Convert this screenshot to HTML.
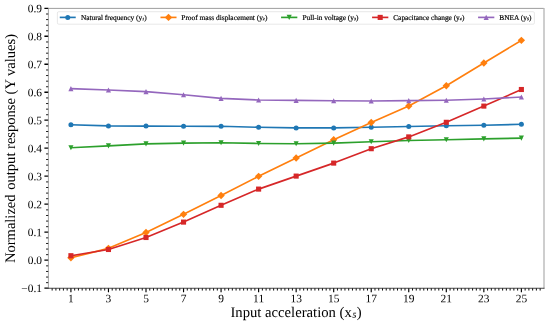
<!DOCTYPE html>
<html lang="en"><head><meta charset="utf-8"><title>Normalized output response vs input acceleration</title>
<style>
html,body{margin:0;padding:0;background:#fff;}
body{width:550px;height:325px;overflow:hidden;}
svg{display:block;}
text{text-rendering:geometricPrecision;font-family:"Liberation Serif",serif;fill:#000;}
.tk{font-size:11.45px;}
.lb{font-size:14.55px;}
.lg{font-size:7.37px;stroke:#000;stroke-width:0.18px;}
</style></head><body>
<svg width="550" height="325" viewBox="0 0 550 325">
<rect x="0" y="0" width="550" height="325" fill="#ffffff"/>
<path d="M52.15 288.25v2.3M55.91 288.25v2.3M59.66 288.25v2.3M63.42 288.25v2.3M67.17 288.25v2.3M74.68 288.25v2.3M78.43 288.25v2.3M82.18 288.25v2.3M85.94 288.25v2.3M89.69 288.25v2.3M93.45 288.25v2.3M97.20 288.25v2.3M100.95 288.25v2.3M104.71 288.25v2.3M112.21 288.25v2.3M115.97 288.25v2.3M119.72 288.25v2.3M123.48 288.25v2.3M127.23 288.25v2.3M130.98 288.25v2.3M134.74 288.25v2.3M138.49 288.25v2.3M142.24 288.25v2.3M149.75 288.25v2.3M153.51 288.25v2.3M157.26 288.25v2.3M161.01 288.25v2.3M164.77 288.25v2.3M168.52 288.25v2.3M172.28 288.25v2.3M176.03 288.25v2.3M179.78 288.25v2.3M187.29 288.25v2.3M191.04 288.25v2.3M194.80 288.25v2.3M198.55 288.25v2.3M202.31 288.25v2.3M206.06 288.25v2.3M209.81 288.25v2.3M213.57 288.25v2.3M217.32 288.25v2.3M224.83 288.25v2.3M228.58 288.25v2.3M232.34 288.25v2.3M236.09 288.25v2.3M239.84 288.25v2.3M243.60 288.25v2.3M247.35 288.25v2.3M251.10 288.25v2.3M254.86 288.25v2.3M262.37 288.25v2.3M266.12 288.25v2.3M269.87 288.25v2.3M273.63 288.25v2.3M277.38 288.25v2.3M281.13 288.25v2.3M284.89 288.25v2.3M288.64 288.25v2.3M292.40 288.25v2.3M299.90 288.25v2.3M303.66 288.25v2.3M307.41 288.25v2.3M311.17 288.25v2.3M314.92 288.25v2.3M318.67 288.25v2.3M322.43 288.25v2.3M326.18 288.25v2.3M329.93 288.25v2.3M337.44 288.25v2.3M341.20 288.25v2.3M344.95 288.25v2.3M348.70 288.25v2.3M352.46 288.25v2.3M356.21 288.25v2.3M359.96 288.25v2.3M363.72 288.25v2.3M367.47 288.25v2.3M374.98 288.25v2.3M378.73 288.25v2.3M382.49 288.25v2.3M386.24 288.25v2.3M389.99 288.25v2.3M393.75 288.25v2.3M397.50 288.25v2.3M401.26 288.25v2.3M405.01 288.25v2.3M412.52 288.25v2.3M416.27 288.25v2.3M420.02 288.25v2.3M423.78 288.25v2.3M427.53 288.25v2.3M431.29 288.25v2.3M435.04 288.25v2.3M438.79 288.25v2.3M442.55 288.25v2.3M450.06 288.25v2.3M453.81 288.25v2.3M457.56 288.25v2.3M461.32 288.25v2.3M465.07 288.25v2.3M468.82 288.25v2.3M472.58 288.25v2.3M476.33 288.25v2.3M480.09 288.25v2.3M487.59 288.25v2.3M491.35 288.25v2.3M495.10 288.25v2.3M498.85 288.25v2.3M502.61 288.25v2.3M506.36 288.25v2.3M510.12 288.25v2.3M513.87 288.25v2.3M517.62 288.25v2.3M525.13 288.25v2.3M528.88 288.25v2.3M532.64 288.25v2.3M536.39 288.25v2.3M540.15 288.25v2.3" stroke="#000" stroke-width="0.95" fill="none"/>
<path d="M70.92 288.25v4.0M108.46 288.25v4.0M146.00 288.25v4.0M183.54 288.25v4.0M221.07 288.25v4.0M258.61 288.25v4.0M296.15 288.25v4.0M333.69 288.25v4.0M371.23 288.25v4.0M408.76 288.25v4.0M446.30 288.25v4.0M483.84 288.25v4.0M521.38 288.25v4.0" stroke="#000" stroke-width="1.15" fill="none"/>
<path d="M48.40 282.65h-2.3M48.40 277.06h-2.3M48.40 271.46h-2.3M48.40 265.86h-2.3M48.40 254.67h-2.3M48.40 249.07h-2.3M48.40 243.47h-2.3M48.40 237.88h-2.3M48.40 226.68h-2.3M48.40 221.09h-2.3M48.40 215.49h-2.3M48.40 209.89h-2.3M48.40 198.70h-2.3M48.40 193.10h-2.3M48.40 187.50h-2.3M48.40 181.91h-2.3M48.40 170.71h-2.3M48.40 165.12h-2.3M48.40 159.52h-2.3M48.40 153.92h-2.3M48.40 142.73h-2.3M48.40 137.13h-2.3M48.40 131.53h-2.3M48.40 125.94h-2.3M48.40 114.74h-2.3M48.40 109.15h-2.3M48.40 103.55h-2.3M48.40 97.95h-2.3M48.40 86.76h-2.3M48.40 81.16h-2.3M48.40 75.56h-2.3M48.40 69.97h-2.3M48.40 58.77h-2.3M48.40 53.18h-2.3M48.40 47.58h-2.3M48.40 41.98h-2.3M48.40 30.79h-2.3M48.40 25.19h-2.3M48.40 19.59h-2.3M48.40 14.00h-2.3" stroke="#000" stroke-width="0.95" fill="none"/>
<path d="M48.40 288.13h-4.0M48.40 260.15h-4.0M48.40 232.16h-4.0M48.40 204.18h-4.0M48.40 176.19h-4.0M48.40 148.21h-4.0M48.40 120.22h-4.0M48.40 92.23h-4.0M48.40 64.25h-4.0M48.40 36.27h-4.0M48.40 8.28h-4.0" stroke="#000" stroke-width="1.3" fill="none"/>
<polyline points="70.92,124.70 108.46,125.90 146.00,126.10 183.54,126.30 221.07,126.30 258.61,127.30 296.15,127.90 333.69,127.90 371.23,127.30 408.76,126.50 446.30,125.80 483.84,125.30 521.38,124.30" fill="none" stroke="#1f77b4" stroke-width="1.65" stroke-linejoin="round" stroke-linecap="square"/>
<g><circle cx="70.92" cy="124.70" r="2.50" fill="#1f77b4"/><circle cx="108.46" cy="125.90" r="2.50" fill="#1f77b4"/><circle cx="146.00" cy="126.10" r="2.50" fill="#1f77b4"/><circle cx="183.54" cy="126.30" r="2.50" fill="#1f77b4"/><circle cx="221.07" cy="126.30" r="2.50" fill="#1f77b4"/><circle cx="258.61" cy="127.30" r="2.50" fill="#1f77b4"/><circle cx="296.15" cy="127.90" r="2.50" fill="#1f77b4"/><circle cx="333.69" cy="127.90" r="2.50" fill="#1f77b4"/><circle cx="371.23" cy="127.30" r="2.50" fill="#1f77b4"/><circle cx="408.76" cy="126.50" r="2.50" fill="#1f77b4"/><circle cx="446.30" cy="125.80" r="2.50" fill="#1f77b4"/><circle cx="483.84" cy="125.30" r="2.50" fill="#1f77b4"/><circle cx="521.38" cy="124.30" r="2.50" fill="#1f77b4"/></g>
<polyline points="70.92,257.85 108.46,248.35 146.00,232.55 183.54,214.35 221.07,195.55 258.61,176.35 296.15,157.95 333.69,139.75 371.23,122.55 408.76,105.95 446.30,85.75 483.84,62.95 521.38,40.35" fill="none" stroke="#ff7f0e" stroke-width="1.65" stroke-linejoin="round" stroke-linecap="square"/>
<g><path d="M70.92 254.14L74.63 257.85L70.92 261.56L67.22 257.85Z" fill="#ff7f0e" /><path d="M108.46 244.64L112.17 248.35L108.46 252.06L104.75 248.35Z" fill="#ff7f0e" /><path d="M146.00 228.84L149.70 232.55L146.00 236.26L142.29 232.55Z" fill="#ff7f0e" /><path d="M183.54 210.64L187.24 214.35L183.54 218.06L179.83 214.35Z" fill="#ff7f0e" /><path d="M221.07 191.84L224.78 195.55L221.07 199.26L217.37 195.55Z" fill="#ff7f0e" /><path d="M258.61 172.64L262.32 176.35L258.61 180.06L254.91 176.35Z" fill="#ff7f0e" /><path d="M296.15 154.24L299.86 157.95L296.15 161.66L292.44 157.95Z" fill="#ff7f0e" /><path d="M333.69 136.04L337.39 139.75L333.69 143.46L329.98 139.75Z" fill="#ff7f0e" /><path d="M371.23 118.84L374.93 122.55L371.23 126.26L367.52 122.55Z" fill="#ff7f0e" /><path d="M408.76 102.24L412.47 105.95L408.76 109.66L405.06 105.95Z" fill="#ff7f0e" /><path d="M446.30 82.04L450.01 85.75L446.30 89.46L442.60 85.75Z" fill="#ff7f0e" /><path d="M483.84 59.24L487.55 62.95L483.84 66.66L480.13 62.95Z" fill="#ff7f0e" /><path d="M521.38 36.64L525.08 40.35L521.38 44.06L517.67 40.35Z" fill="#ff7f0e" /></g>
<polyline points="70.92,147.70 108.46,145.90 146.00,143.90 183.54,143.10 221.07,142.70 258.61,143.50 296.15,143.70 333.69,143.10 371.23,141.70 408.76,140.50 446.30,139.70 483.84,138.90 521.38,138.10" fill="none" stroke="#2ca02c" stroke-width="1.65" stroke-linejoin="round" stroke-linecap="square"/>
<g><path d="M70.92 150.25L73.47 145.15L68.37 145.15Z" fill="#2ca02c"/><path d="M108.46 148.45L111.01 143.35L105.91 143.35Z" fill="#2ca02c"/><path d="M146.00 146.45L148.55 141.35L143.45 141.35Z" fill="#2ca02c"/><path d="M183.54 145.65L186.09 140.55L180.99 140.55Z" fill="#2ca02c"/><path d="M221.07 145.25L223.62 140.15L218.52 140.15Z" fill="#2ca02c"/><path d="M258.61 146.05L261.16 140.95L256.06 140.95Z" fill="#2ca02c"/><path d="M296.15 146.25L298.70 141.15L293.60 141.15Z" fill="#2ca02c"/><path d="M333.69 145.65L336.24 140.55L331.14 140.55Z" fill="#2ca02c"/><path d="M371.23 144.25L373.78 139.15L368.68 139.15Z" fill="#2ca02c"/><path d="M408.76 143.05L411.31 137.95L406.21 137.95Z" fill="#2ca02c"/><path d="M446.30 142.25L448.85 137.15L443.75 137.15Z" fill="#2ca02c"/><path d="M483.84 141.45L486.39 136.35L481.29 136.35Z" fill="#2ca02c"/><path d="M521.38 140.65L523.93 135.55L518.83 135.55Z" fill="#2ca02c"/></g>
<polyline points="70.92,255.70 108.46,249.50 146.00,237.50 183.54,222.10 221.07,205.30 258.61,189.10 296.15,176.10 333.69,163.10 371.23,148.70 408.76,136.90 446.30,122.30 483.84,106.10 521.38,89.50" fill="none" stroke="#d62728" stroke-width="1.65" stroke-linejoin="round" stroke-linecap="square"/>
<g><rect x="68.37" y="253.15" width="5.10" height="5.10" fill="#d62728"/><rect x="105.91" y="246.95" width="5.10" height="5.10" fill="#d62728"/><rect x="143.45" y="234.95" width="5.10" height="5.10" fill="#d62728"/><rect x="180.99" y="219.55" width="5.10" height="5.10" fill="#d62728"/><rect x="218.52" y="202.75" width="5.10" height="5.10" fill="#d62728"/><rect x="256.06" y="186.55" width="5.10" height="5.10" fill="#d62728"/><rect x="293.60" y="173.55" width="5.10" height="5.10" fill="#d62728"/><rect x="331.14" y="160.55" width="5.10" height="5.10" fill="#d62728"/><rect x="368.68" y="146.15" width="5.10" height="5.10" fill="#d62728"/><rect x="406.21" y="134.35" width="5.10" height="5.10" fill="#d62728"/><rect x="443.75" y="119.75" width="5.10" height="5.10" fill="#d62728"/><rect x="481.29" y="103.55" width="5.10" height="5.10" fill="#d62728"/><rect x="518.83" y="86.95" width="5.10" height="5.10" fill="#d62728"/></g>
<polyline points="70.92,88.60 108.46,90.00 146.00,91.60 183.54,94.80 221.07,98.40 258.61,100.00 296.15,100.40 333.69,100.80 371.23,101.00 408.76,100.60 446.30,100.20 483.84,99.00 521.38,97.00" fill="none" stroke="#9467bd" stroke-width="1.65" stroke-linejoin="round" stroke-linecap="square"/>
<g><path d="M70.92 86.05L73.47 91.15L68.37 91.15Z" fill="#9467bd"/><path d="M108.46 87.45L111.01 92.55L105.91 92.55Z" fill="#9467bd"/><path d="M146.00 89.05L148.55 94.15L143.45 94.15Z" fill="#9467bd"/><path d="M183.54 92.25L186.09 97.35L180.99 97.35Z" fill="#9467bd"/><path d="M221.07 95.85L223.62 100.95L218.52 100.95Z" fill="#9467bd"/><path d="M258.61 97.45L261.16 102.55L256.06 102.55Z" fill="#9467bd"/><path d="M296.15 97.85L298.70 102.95L293.60 102.95Z" fill="#9467bd"/><path d="M333.69 98.25L336.24 103.35L331.14 103.35Z" fill="#9467bd"/><path d="M371.23 98.45L373.78 103.55L368.68 103.55Z" fill="#9467bd"/><path d="M408.76 98.05L411.31 103.15L406.21 103.15Z" fill="#9467bd"/><path d="M446.30 97.65L448.85 102.75L443.75 102.75Z" fill="#9467bd"/><path d="M483.84 96.45L486.39 101.55L481.29 101.55Z" fill="#9467bd"/><path d="M521.38 94.45L523.93 99.55L518.83 99.55Z" fill="#9467bd"/></g>
<path d="M48.4 8.4H543.9" stroke="#5a5a5a" stroke-width="0.6" fill="none"/>
<path d="M544.0 8.1V288.6" stroke="#b4b4b4" stroke-width="1.3" fill="none"/>
<path d="M48.4 8.1V288.55" stroke="#8c8c8c" stroke-width="0.8" fill="none"/>
<path d="M48.0 288.25H544.5" stroke="#1a1a1a" stroke-width="0.8" fill="none"/>
<text class="tk" transform="translate(70.92 302.25) rotate(0.04)" text-anchor="middle">1</text>
<text class="tk" transform="translate(108.46 302.25) rotate(0.04)" text-anchor="middle">3</text>
<text class="tk" transform="translate(146.00 302.25) rotate(0.04)" text-anchor="middle">5</text>
<text class="tk" transform="translate(183.54 302.25) rotate(0.04)" text-anchor="middle">7</text>
<text class="tk" transform="translate(221.07 302.25) rotate(0.04)" text-anchor="middle">9</text>
<text class="tk" transform="translate(258.61 302.25) rotate(0.04)" text-anchor="middle">11</text>
<text class="tk" transform="translate(296.15 302.25) rotate(0.04)" text-anchor="middle">13</text>
<text class="tk" transform="translate(333.69 302.25) rotate(0.04)" text-anchor="middle">15</text>
<text class="tk" transform="translate(371.23 302.25) rotate(0.04)" text-anchor="middle">17</text>
<text class="tk" transform="translate(408.76 302.25) rotate(0.04)" text-anchor="middle">19</text>
<text class="tk" transform="translate(446.30 302.25) rotate(0.04)" text-anchor="middle">21</text>
<text class="tk" transform="translate(483.84 302.25) rotate(0.04)" text-anchor="middle">23</text>
<text class="tk" transform="translate(521.38 302.25) rotate(0.04)" text-anchor="middle">25</text>
<text class="tk" transform="translate(42 292.10) rotate(0.04)" text-anchor="end">−0.1</text>
<text class="tk" transform="translate(42 264.12) rotate(0.04)" text-anchor="end">0.0</text>
<text class="tk" transform="translate(42 236.13) rotate(0.04)" text-anchor="end">0.1</text>
<text class="tk" transform="translate(42 208.15) rotate(0.04)" text-anchor="end">0.2</text>
<text class="tk" transform="translate(42 180.16) rotate(0.04)" text-anchor="end">0.3</text>
<text class="tk" transform="translate(42 152.18) rotate(0.04)" text-anchor="end">0.4</text>
<text class="tk" transform="translate(42 124.19) rotate(0.04)" text-anchor="end">0.5</text>
<text class="tk" transform="translate(42 96.20) rotate(0.04)" text-anchor="end">0.6</text>
<text class="tk" transform="translate(42 68.22) rotate(0.04)" text-anchor="end">0.7</text>
<text class="tk" transform="translate(42 40.23) rotate(0.04)" text-anchor="end">0.8</text>
<text class="tk" transform="translate(42 12.25) rotate(0.04)" text-anchor="end">0.9</text>
<text class="lb" transform="translate(296.0 317) rotate(0.03)" text-anchor="middle" style="font-size:14.68px;word-spacing:0">Input acceleration (x<tspan dy="-1.8" dx="0.3" style="font-size:13px;font-style:italic;font-weight:bold">₅</tspan><tspan dy="1.8">)</tspan></text>
<text class="lb" transform="translate(14.95 148.5) rotate(-90)" text-anchor="middle">Normalized <tspan dx="1">output response (Y values)</tspan></text>
<rect x="57.4" y="11.7" width="477" height="12.5" rx="1.3" ry="1.3" fill="#fff" fill-opacity="0.8" stroke="#dedede" stroke-width="0.7"/>
<path d="M60.60 17.4H74.90" stroke="#1f77b4" stroke-width="1.65" stroke-linecap="square" fill="none"/>
<circle cx="67.75" cy="17.40" r="2.50" fill="#1f77b4"/>
<text class="lg" transform="translate(80.9 20) rotate(0.04)">Natural frequency (y<tspan dy="-1" style="font-size:6px;font-style:italic;font-weight:bold">₁</tspan><tspan dy="1">)</tspan></text>
<path d="M161.30 17.4H175.70" stroke="#ff7f0e" stroke-width="1.65" stroke-linecap="square" fill="none"/>
<path d="M168.50 13.69L172.21 17.40L168.50 21.11L164.79 17.40Z" fill="#ff7f0e" />
<text class="lg" transform="translate(181.3 20) rotate(0.04)">Proof mass displacement (y<tspan dy="-1" style="font-size:6px;font-style:italic;font-weight:bold">₂</tspan><tspan dy="1">)</tspan></text>
<path d="M281.90 17.4H296.50" stroke="#2ca02c" stroke-width="1.65" stroke-linecap="square" fill="none"/>
<path d="M289.20 19.95L291.75 14.85L286.65 14.85Z" fill="#2ca02c"/>
<text class="lg" transform="translate(302.4 20) rotate(0.04)">Pull-in voltage (y<tspan dy="-1" style="font-size:6px;font-style:italic;font-weight:bold">₃</tspan><tspan dy="1">)</tspan></text>
<path d="M372.90 17.4H387.50" stroke="#d62728" stroke-width="1.65" stroke-linecap="square" fill="none"/>
<rect x="377.65" y="14.85" width="5.10" height="5.10" fill="#d62728"/>
<text class="lg" transform="translate(393.2 20) rotate(0.04)">Capacitance change (y<tspan dy="-1" style="font-size:6px;font-style:italic;font-weight:bold">₄</tspan><tspan dy="1">)</tspan></text>
<path d="M478.90 17.4H493.50" stroke="#9467bd" stroke-width="1.65" stroke-linecap="square" fill="none"/>
<path d="M486.20 14.85L488.75 19.95L483.65 19.95Z" fill="#9467bd"/>
<text class="lg" transform="translate(499.3 20) rotate(0.04)">BNEA (y<tspan dy="-1" style="font-size:6px;font-style:italic;font-weight:bold">₅</tspan><tspan dy="1">)</tspan></text>
</svg></body></html>
